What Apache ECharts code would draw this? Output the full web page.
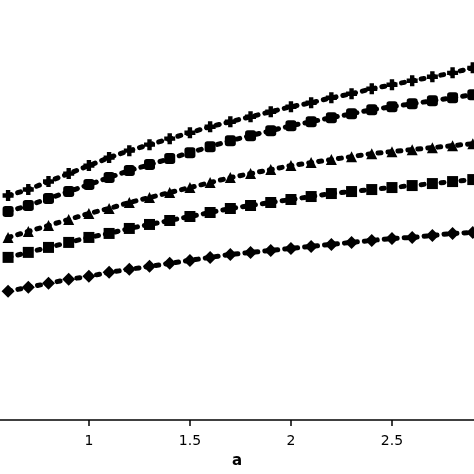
<!DOCTYPE html>
<html><head><meta charset="utf-8">
<script src="https://cdn.jsdelivr.net/npm/echarts@6/dist/echarts.min.js"></script>
<style>html,body{margin:0;background:#fff}#d{width:474px;height:474px}</style>
</head><body><div id="d"></div>
<script>
var xs=[];
for(var i=6;i<=29;i++){xs.push(i/10)}
var s1=[225,231,239,247,255,263,270,276,282,288,294,299,304,309,314,318,323,327,332,336,340,344,348,353];
var s2=[209,215,222,229,236,243,250,256,262,268,274,280,285,290,295,299,303,307,311,314,317,320,323,326];
var s3=[183,189,195,201,207,212,218,223,228,233,238,243,247,251,255,258,261,264,267,269,271,273,275,277];
var s4=[163,168,173,178,183,187,192,196,200,204,208,212,215,218,221,224,227,229,231,233,235,237,239,241];
var s5=[129,133,137,141,144,148,151,154,157,160,163,166,168,170,172,174,176,178,180,182,183,185,187,188];
var xticks=[1,1.5,2,2.5];

function pts(v){return v.map(function(y,i){return [xs[i],y]})}
var cross='path://M3,0H7V3H10V7H7V10H3V7H0V3H3Z';
var syms=[cross,'roundRect','triangle','rect','diamond'];
var data=[s1,s2,s3,s4,s5];
var myChart=echarts.init(document.getElementById('d'));
option={
  animation:false,
  grid:{left:0,right:0,top:0,bottom:53},
  xAxis:{type:'value',min:0.56,max:2.906,name:'a',nameLocation:'middle',nameGap:34,
    nameTextStyle:{color:'#000',fontSize:15,fontWeight:'bold',fontFamily:'DejaVu Sans'},
    axisLine:{lineStyle:{color:'#000',width:1.5}},
    axisTick:{customValues:xticks,length:6,lineStyle:{color:'#000',width:1.5}},
    splitLine:{show:false},
    axisLabel:{customValues:xticks,color:'#000',fontSize:14,fontFamily:'DejaVu Sans',margin:14}},
  yAxis:{type:'value',min:0,max:421,show:false},
  series:[]
};
for(var k=0;k<5;k++){
  option.series.push({type:'line',data:pts(data[k]),symbol:syms[k],symbolSize:k==4?13:11,
    itemStyle:{color:'#000'},lineStyle:{color:'#000',type:[3,7],width:5,cap:'round'}});
}
myChart.setOption(option);
</script></body></html>
